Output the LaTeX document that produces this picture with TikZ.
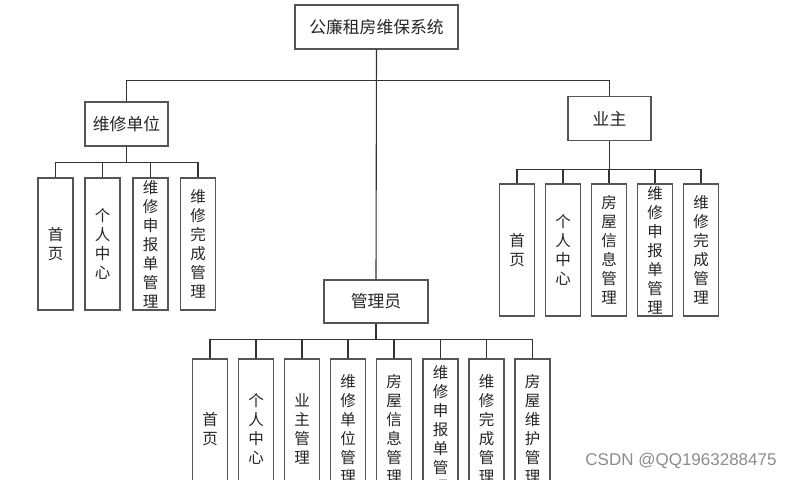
\documentclass[tikz,border=0pt]{standalone}
\usepackage{fontspec}
\newfontfamily\cjk{Noto Sans CJK SC}
\newfontfamily\wmfont{Liberation Sans}
\usetikzlibrary{positioning}
\definecolor{ln}{HTML}{555555}
\tikzset{
    top/.style =    {rectangle,
                    fill=white,
                    draw=ln,
                    text=black!85,
                    line width=1.3pt,
                    inner sep=0pt,
                    minimum height=44pt,
                    font=\cjk\fontsize{16.8}{19}\selectfont},
    leaf/.style =   {rectangle,
                    fill=white,
                    draw=ln,
                    text=black!85,
                    line width=1.3pt,
                    inner sep=0pt,
                    align=center,
                    minimum width=35pt,
                    minimum height=132pt,
                    font=\cjk\fontsize{15.5}{19}\selectfont},
    link/.style =   {draw=black!80,
                    line width=1.1pt},
    elbow/.style =  {to path={(\tikztostart) -- ++(0,#1) -| (\tikztotarget)}},
    -,
    x=1pt,
    y=-1pt}

\begin{document}
\begin{tikzpicture}
        \useasboundingbox (0,0) rectangle (794,479);
                \node[top,minimum width=163pt]  (R) at (376.5,27)      {公廉租房维保系统};
                \node[top,minimum width=83pt]   (W) at (126.5,124)     {维修单位};
                \node[top,minimum width=83pt]   (Y) at (609.5,118.5)   {业主};
                \node[top,minimum width=104pt,minimum height=43pt]  (M) at (376,301.5)  {管理员};

                % 维修单位
                \node[leaf]     (W1) at (55.5,244)     {首\\页};
                \node[leaf]     (W2) at (102.5,244)    {个\\人\\中\\心};
                \node[leaf]     (W3) at (150.5,244)    {维\\修\\申\\报\\单\\管\\理};
                \node[leaf]     (W4) at (198,244)      {维\\修\\完\\成\\管\\理};

                % 业主
                \node[leaf]     (Y1) at (517,250)      {首\\页};
                \node[leaf]     (Y2) at (563,250)      {个\\人\\中\\心};
                \node[leaf]     (Y3) at (609,250)      {房\\屋\\信\\息\\管\\理};
                \node[leaf]     (Y4) at (655,250)      {维\\修\\申\\报\\单\\管\\理};
                \node[leaf]     (Y5) at (701,250)      {维\\修\\完\\成\\管\\理};

                % 管理员
                \node[leaf,minimum height=140pt]     (M1) at (210,429)      {首\\页};
                \node[leaf,minimum height=140pt]     (M2) at (256,429)      {个\\人\\中\\心};
                \node[leaf,minimum height=140pt]     (M3) at (302,429)      {业\\主\\管\\理};
                \node[leaf,minimum height=140pt]     (M4) at (348,429)      {维\\修\\单\\位\\管\\理};
                \node[leaf,minimum height=140pt]     (M5) at (394,429)      {房\\屋\\信\\息\\管\\理};
                \node[leaf,minimum height=140pt]     (M6) at (440.5,429)    {维\\修\\申\\报\\单\\管\\理};
                \node[leaf,minimum height=140pt]     (M7) at (486.5,429)    {维\\修\\完\\成\\管\\理};
                \node[leaf,minimum height=140pt]     (M8) at (532.5,429)    {房\\屋\\维\\护\\管\\理};

                \path [link]    (R.south) edge [elbow=31]   (W.north)
                                (R.south) edge [elbow=31]   (Y.north)
                                (R.south) edge []           (M.north)
                                (W.south) edge [elbow=16]   (W1.north)
                                (W.south) edge [elbow=16]   (W2.north)
                                (W.south) edge [elbow=16]   (W3.north)
                                (W.south) edge [elbow=16]   (W4.north)
                                (Y.south) edge [elbow=28]   (Y1.north)
                                (Y.south) edge [elbow=28]   (Y2.north)
                                (Y.south) edge [elbow=28]   (Y3.north)
                                (Y.south) edge [elbow=28]   (Y4.north)
                                (Y.south) edge [elbow=28]   (Y5.north)
                                (M.south) edge [elbow=16]   (M1.north)
                                (M.south) edge [elbow=16]   (M2.north)
                                (M.south) edge [elbow=16]   (M3.north)
                                (M.south) edge [elbow=16]   (M4.north)
                                (M.south) edge [elbow=16]   (M5.north)
                                (M.south) edge [elbow=16]   (M6.north)
                                (M.south) edge [elbow=16]   (M7.north)
                                (M.south) edge [elbow=16]   (M8.north);

                \node[text=black!45,font=\wmfont\fontsize{17}{18}\selectfont] (CSDN) at (681,461) {CSDN @QQ1963288475};
        \end{tikzpicture}
\end{document}
